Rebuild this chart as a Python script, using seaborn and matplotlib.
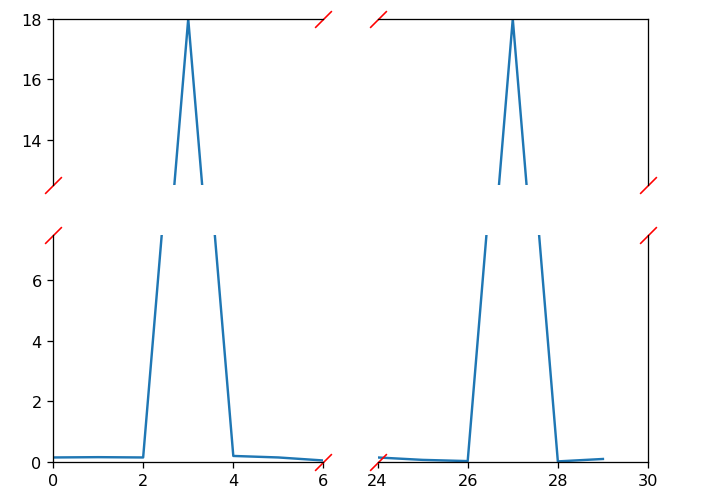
import numpy as np
import pandas as pd
import matplotlib
matplotlib.use("Agg")
import matplotlib.pyplot as plt
import seaborn as sns

# data
x_vals = list(range(30))
y_vals = [0.15, 0.16, 0.15, 18.0, 0.20, 0.15, 0.05, 0.10, 0.12, 0.08,
          0.10, 0.14, 0.09, 0.11, 0.13, 0.10, 0.12, 0.08, 0.10, 0.11,
          0.09, 0.12, 0.10, 0.14, 0.15, 0.07, 0.03, 18.0, 0.02, 0.10]
df = pd.DataFrame({"x": x_vals, "y": y_vals})

left_xlim = (0, 6)
right_xlim = (24, 30)
top_ylim = (12.5, 18)
bottom_ylim = (0, 7.5)

DPI = 116
fig, axes = plt.subplots(2, 2, figsize=(717 / DPI, 496 / DPI), dpi=DPI,
                         gridspec_kw={"height_ratios": [166, 227]})
plt.subplots_adjust(left=53/717, right=648/717, top=1-20/496, bottom=1-463/496,
                    wspace=54/270, hspace=50/196.5)

for ax in axes.flat:
    sns.lineplot(data=df, x="x", y="y", ax=ax, color="#1f77b4")
    ax.set_xlabel("")
    ax.set_ylabel("")

(ax_tl, ax_tr), (ax_bl, ax_br) = axes

ax_tl.set_xlim(*left_xlim); ax_bl.set_xlim(*left_xlim)
ax_tr.set_xlim(*right_xlim); ax_br.set_xlim(*right_xlim)
ax_tl.set_ylim(*top_ylim); ax_tr.set_ylim(*top_ylim)
ax_bl.set_ylim(*bottom_ylim); ax_br.set_ylim(*bottom_ylim)

ax_tl.set_yticks([14, 16, 18])
ax_bl.set_yticks([0, 2, 4, 6])
ax_bl.set_xticks([0, 2, 4, 6])
ax_br.set_xticks([24, 26, 28, 30])

# hide inner spines
ax_tl.spines["bottom"].set_visible(False)
ax_tl.spines["right"].set_visible(False)
ax_tl.tick_params(bottom=False, labelbottom=False)
ax_tr.spines["bottom"].set_visible(False)
ax_tr.spines["left"].set_visible(False)
ax_tr.tick_params(bottom=False, labelbottom=False, left=False, labelleft=False)
ax_bl.spines["top"].set_visible(False)
ax_bl.spines["right"].set_visible(False)
ax_br.spines["top"].set_visible(False)
ax_br.spines["left"].set_visible(False)
ax_br.tick_params(left=False, labelleft=False)

# diagonal break marks
kw = dict(marker=[(-1, -1), (1, 1)], markersize=10.4, linestyle="none",
          color="r", mec="r", mew=1, clip_on=False)
ax_tl.plot([1, 0], [1, 0], transform=ax_tl.transAxes, **kw)
ax_tr.plot([0, 1], [1, 0], transform=ax_tr.transAxes, **kw)
ax_bl.plot([0, 1], [1, 0], transform=ax_bl.transAxes, **kw)
ax_br.plot([0, 1], [0, 1], transform=ax_br.transAxes, **kw)

plt.savefig("out.png", dpi=DPI)
